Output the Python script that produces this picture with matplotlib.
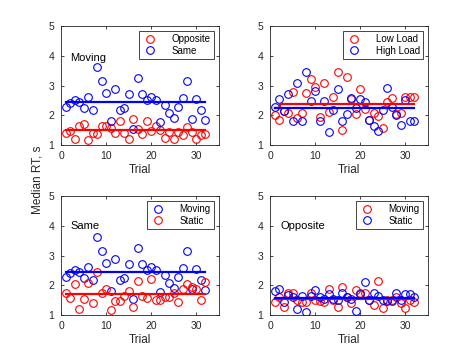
import numpy as np
import matplotlib
matplotlib.use("Agg")
import matplotlib.pyplot as plt

plt.rcParams['font.family'] = ['Liberation Sans', 'DejaVu Sans']

trial = np.arange(1, 33)

# Moving: Opposite (red) / Same (blue)
moving_opposite = [1.41, 1.47, 1.19, 1.64, 1.69, 1.17, 1.39, 1.37, 1.64, 1.64, 1.57, 1.39,
                   1.81, 1.41, 1.21, 1.86, 1.53, 1.37, 1.79, 1.47, 1.65, 1.51, 1.24, 1.45,
                   1.19, 1.43, 1.33, 1.59, 1.44, 1.19, 1.33, 1.36]
moving_same = [2.29, 2.42, 2.51, 2.46, 2.23, 2.62, 2.18, 3.61, 3.15, 2.76, 1.82, 2.87,
               2.18, 2.26, 2.70, 1.54, 3.26, 2.70, 2.51, 2.60, 2.51, 1.76, 2.34, 2.06,
               1.92, 2.29, 2.57, 3.16, 1.87, 2.53, 2.18, 1.84]
moving_opposite_mean = 1.52
moving_same_mean = 2.46

# Load: Low Load (red) / High Load (blue)
low_load = [2.01, 1.84, 2.14, 2.06, 2.77, 1.90, 2.09, 2.76, 3.21, 2.94, 1.95, 3.10,
            2.12, 2.61, 3.47, 1.50, 3.27, 2.54, 2.03, 2.87, 2.20, 1.84, 2.06, 1.97,
            1.56, 2.44, 2.57, 2.04, 2.09, 2.60, 2.62, 2.62]
high_load = [2.27, 2.54, 2.14, 2.70, 1.82, 3.07, 1.82, 3.44, 2.49, 2.80, 1.82, 2.49,
             1.45, 2.18, 2.88, 1.82, 2.04, 2.57, 2.23, 2.54, 2.46, 1.84, 1.64, 1.48,
             2.18, 2.90, 2.27, 2.01, 1.66, 2.52, 1.80, 1.80]
low_load_line_x = [1, 2.2, 2.2, 32]
low_load_line_y = [2.24, 2.24, 2.39, 2.39]
high_load_mean = 2.25

# Same: Moving (blue) / Static (red)
same_static = [1.73, 1.58, 2.03, 1.20, 1.55, 2.09, 1.41, 2.43, 1.75, 1.89, 1.17, 1.47,
               1.48, 1.64, 1.81, 1.26, 2.14, 1.64, 1.56, 2.20, 1.51, 1.51, 1.60, 1.60,
               1.75, 1.43, 1.88, 2.04, 1.95, 1.87, 1.51, 2.12]
same_static_mean = 1.69

# Opposite: Moving (red) / Static (blue)
opposite_moving = [1.45, 1.62, 1.26, 1.73, 1.73, 1.50, 1.45, 1.45, 1.73, 1.52, 1.48, 1.45,
                   1.86, 1.50, 1.28, 1.93, 1.62, 1.42, 1.84, 1.73, 1.73, 1.50, 1.34, 2.15,
                   1.22, 1.50, 1.50, 1.59, 1.39, 1.22, 1.50, 1.45]
opposite_static = [1.82, 1.86, 1.45, 1.66, 1.62, 1.19, 1.64, 1.11, 1.64, 1.84, 1.62, 1.55,
                   1.70, 1.55, 1.52, 1.73, 1.60, 1.55, 1.15, 1.72, 2.12, 1.52, 1.73, 1.64,
                   1.52, 1.47, 1.47, 1.75, 1.52, 1.72, 1.70, 1.62]
opposite_moving_mean = 1.53
opposite_static_mean = 1.57

RED = (1, 0, 0)
BLUE = (0, 0, 1)

fig = plt.figure(figsize=(4.74, 3.55), dpi=100)
W, H = 474, 355
def pos(l, r, t, b):
    return [l / W, (H - b) / H, (r - l) / W, (b - t) / H]

ax1 = fig.add_axes(pos(61, 219, 26, 145))
ax2 = fig.add_axes(pos(270, 428, 26, 145))
ax3 = fig.add_axes(pos(61, 219, 196, 315))
ax4 = fig.add_axes(pos(270, 428, 196, 315))

def pts(ax, y, c, label):
    ax.plot(trial, y, 'o', mfc='none', mec=c, ms=5.5, mew=0.8, label=label)

def style(ax):
    ax.set_xlim(0, 35)
    ax.set_ylim(1, 5)
    ax.set_xticks([0, 10, 20, 30])
    ax.set_yticks([1, 2, 3, 4, 5])
    ax.tick_params(direction='in', length=2.5, width=0.6, labelsize=7.5,
                   colors='#262626', top=True, right=True)
    ax.tick_params(axis='x', pad=4)
    ax.tick_params(axis='y', pad=5)
    for s in ax.spines.values():
        s.set_linewidth(0.6)
        s.set_color('#262626')
    ax.set_xlabel('Trial', fontsize=8.5, labelpad=2.5, color='#262626')

def leg(ax):
    lg = ax.legend(loc='upper right', fontsize=7, handletextpad=1.4,
                   borderpad=0.35, labelspacing=0.15, fancybox=False,
                   framealpha=1, edgecolor='#262626', handlelength=1.6,
                   borderaxespad=0.5)
    lg.get_frame().set_linewidth(0.6)

# panel 1
pts(ax1, moving_opposite, RED, 'Opposite')
pts(ax1, moving_same, BLUE, 'Same')
ax1.plot([1, 32], [moving_opposite_mean] * 2, color=RED, lw=1.6)
ax1.plot([1, 32], [moving_same_mean] * 2, color=BLUE, lw=1.6)
ax1.text(2, 3.92, 'Moving', fontsize=8, va='center')
style(ax1)
leg(ax1)

# panel 2
pts(ax2, low_load, RED, 'Low Load')
pts(ax2, high_load, BLUE, 'High Load')
ax2.plot(low_load_line_x, low_load_line_y, color=RED, lw=1.6)
ax2.plot([1, 32], [high_load_mean] * 2, color=BLUE, lw=1.6)
style(ax2)
leg(ax2)

# panel 3
pts(ax3, moving_same, BLUE, 'Moving')
pts(ax3, same_static, RED, 'Static')
ax3.plot([1, 32], [moving_same_mean] * 2, color=BLUE, lw=1.6)
ax3.plot([1, 32], [same_static_mean] * 2, color=RED, lw=1.6)
ax3.text(2, 4.0, 'Same', fontsize=8, va='center')
style(ax3)
leg(ax3)

# panel 4
pts(ax4, opposite_moving, RED, 'Moving')
pts(ax4, opposite_static, BLUE, 'Static')
ax4.plot([1, 32], [opposite_moving_mean] * 2, color=RED, lw=1.6)
ax4.plot([1, 32], [opposite_static_mean] * 2, color=BLUE, lw=1.6)
ax4.text(2.3, 4.0, 'Opposite', fontsize=8, va='center')
style(ax4)
leg(ax4)

fig.text(38 / W, 1 - 180 / H, 'Median RT, s', rotation=90, fontsize=8.5,
         ha='center', va='center', color='#262626')

fig.savefig('out.png', dpi=100)
